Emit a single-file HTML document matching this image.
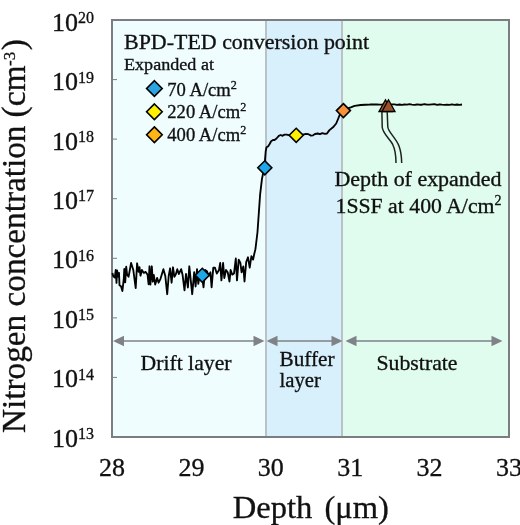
<!DOCTYPE html>
<html><head><meta charset="utf-8"><title>Nitrogen concentration vs depth</title>
<style>html,body{margin:0;padding:0;background:#fff;}body{width:520px;height:525px;overflow:hidden;}svg{display:block;}</style>
</head><body>
<svg width="520" height="525" viewBox="0 0 520 525"><rect x="112" y="20" width="154" height="417" fill="#f0fdff"/>
<rect x="266" y="20" width="76" height="417" fill="#d8effc"/>
<rect x="342" y="20" width="167" height="417" fill="#e0fcee"/>
<line x1="266" y1="20" x2="266" y2="437" stroke="#bac2c8" stroke-width="2"/>
<line x1="342" y1="20" x2="342" y2="437" stroke="#bac2c8" stroke-width="2"/>
<line x1="113" y1="377.4" x2="117" y2="377.4" stroke="#7a7e82" stroke-width="1"/>
<line x1="113" y1="317.9" x2="117" y2="317.9" stroke="#7a7e82" stroke-width="1"/>
<line x1="113" y1="258.3" x2="117" y2="258.3" stroke="#7a7e82" stroke-width="1"/>
<line x1="113" y1="198.7" x2="117" y2="198.7" stroke="#7a7e82" stroke-width="1"/>
<line x1="113" y1="139.1" x2="117" y2="139.1" stroke="#7a7e82" stroke-width="1"/>
<line x1="113" y1="79.6" x2="117" y2="79.6" stroke="#7a7e82" stroke-width="1"/>
<rect x="112" y="20" width="397" height="417" fill="none" stroke="#7a7e82" stroke-width="2"/>
<line x1="121" y1="341" x2="256.5" y2="341" stroke="#7f8286" stroke-width="1.6"/><path d="M113,341 L124,335.7 L124,346.3 Z" fill="#7f8286"/><path d="M264.5,341 L253.5,335.7 L253.5,346.3 Z" fill="#7f8286"/>
<line x1="274.5" y1="341" x2="334.5" y2="341" stroke="#7f8286" stroke-width="1.6"/><path d="M266.5,341 L277.5,335.7 L277.5,346.3 Z" fill="#7f8286"/><path d="M342.5,341 L331.5,335.7 L331.5,346.3 Z" fill="#7f8286"/>
<line x1="353.5" y1="341" x2="494.5" y2="341" stroke="#7f8286" stroke-width="1.6"/><path d="M345.5,341 L356.5,335.7 L356.5,346.3 Z" fill="#7f8286"/><path d="M502.5,341 L491.5,335.7 L491.5,346.3 Z" fill="#7f8286"/>
<path d="M112.4,272.9 L113.3,276.2 L114.8,277.6 L115.7,270.0 L116.5,282.9 L117.1,270.5 L118.1,276.7 L119.0,272.9 L119.5,285.2 L121.0,286.2 L122.4,291.0 L123.8,278.6 L124.3,269.0 L125.2,282.4 L126.2,266.7 L127.1,274.8 L128.6,276.7 L130.0,269.0 L131.1,262.9 L133.3,270.0 L135.7,288.1 L137.1,263.3 L138.6,271.9 L139.5,267.1 L140.5,275.7 L141.9,270.0 L143.8,272.9 L145.7,271.9 L147.6,274.8 L148.6,284.3 L149.5,266.3 L150.4,284.6 L151.8,266.3 L152.8,281.7 L153.8,275.0 L155.2,284.6 L157.1,277.9 L158.6,282.7 L160.5,278.8 L163.4,269.2 L165.3,276.0 L167.2,294.2 L168.7,276.0 L170.1,268.3 L171.6,282.7 L173.0,267.3 L174.4,276.9 L175.9,274.0 L177.3,269.2 L178.8,274.0 L181.2,269.2 L182.6,275.0 L184.5,290.4 L186.0,274.0 L187.9,287.5 L189.3,266.3 L192.2,294.2 L194.2,272.1 L195.6,286.5 L197.0,269.2 L198.3,283.8 L200.0,272.0 L202.3,278.0 L203.5,287.3 L205.2,270.0 L207.0,271.2 L208.7,275.8 L210.4,272.3 L211.6,287.3 L213.3,267.7 L215.0,267.7 L216.8,273.5 L219.0,270.0 L220.2,263.0 L221.4,280.4 L223.1,263.0 L224.3,278.0 L226.0,270.0 L227.7,272.3 L229.5,281.5 L230.6,270.0 L232.3,274.6 L234.0,273.5 L235.8,258.5 L237.0,280.4 L238.7,259.6 L240.4,263.0 L241.6,272.3 L243.3,266.5 L244.5,281.5 L246.2,262.0 L248.0,257.3 L249.7,267.7 L251.4,256.2 L253.1,259.6 L254.3,253.8 L255.4,249.2 L255.9,245.3 L257.5,232.0 L258.8,213.3 L260.1,194.7 L262.0,178.7 L264.2,168.0 L264.9,161.2 L265.7,151.2 L266.5,147.3 L268.0,146.5 L269.5,144.2 L271.1,141.2 L273.0,140.0 L274.5,140.0 L276.5,138.5 L278.8,135.8 L280.7,135.0 L282.6,135.8 L284.5,134.6 L286.8,134.6 L289.5,135.4 L296.0,135.3 L299.0,134.2 L303.0,134.7 L306.0,133.8 L308.5,134.2 L311.0,135.6 L313.0,135.3 L315.0,134.0 L317.7,133.5 L320.0,134.2 L322.3,133.2 L325.0,133.8 L327.0,133.5 L329.2,130.4 L333.0,127.3 L336.2,123.5 L338.5,118.0 L340.0,114.2 L343.4,110.4 L347.0,108.6 L350.8,107.3 L354.6,105.8 L360.8,105.0 L370.0,104.5 L372.0,104.3 L374.5,104.5 L377.0,104.4 L379.5,104.6 L382.0,104.6 L384.5,104.1 L387.0,104.1 L389.5,104.8 L392.0,104.3 L394.5,104.3 L397.0,104.9 L399.5,104.5 L402.0,104.8 L404.5,104.5 L407.0,104.6 L409.5,104.2 L412.0,104.6 L414.5,104.8 L417.0,104.5 L419.5,104.7 L422.0,104.7 L424.5,104.1 L427.0,104.7 L429.5,104.6 L432.0,104.3 L434.5,104.1 L437.0,104.8 L439.5,104.5 L442.0,104.7 L444.5,104.8 L447.0,104.7 L449.5,104.9 L452.0,104.4 L454.5,104.8 L457.0,104.5 L459.5,104.9 L462.0,104.5" fill="none" stroke="#000" stroke-width="1.85" stroke-linejoin="round"/>
<path d="M202.3,268.3 L209.3,275.3 L202.3,282.3 L195.3,275.3 Z" fill="#1ea8ea" stroke="#000" stroke-width="1.6" stroke-linejoin="miter"/>
<path d="M264.8,160.8 L271.8,167.8 L264.8,174.8 L257.8,167.8 Z" fill="#1ea8ea" stroke="#000" stroke-width="1.6" stroke-linejoin="miter"/>
<path d="M296.2,128.3 L303.2,135.3 L296.2,142.3 L289.2,135.3 Z" fill="#fff200" stroke="#000" stroke-width="1.6" stroke-linejoin="miter"/>
<path d="M343.4,103.6 L350.4,110.6 L343.4,117.6 L336.4,110.6 Z" fill="#f7923a" stroke="#000" stroke-width="1.6" stroke-linejoin="miter"/>
<path d="M154.4,80.7 L162.20000000000002,88.5 L154.4,96.3 L146.6,88.5 Z" fill="#2aa5e2" stroke="#000" stroke-width="1.6" stroke-linejoin="miter"/>
<path d="M154.4,104.0 L162.20000000000002,111.8 L154.4,119.6 L146.6,111.8 Z" fill="#fff200" stroke="#000" stroke-width="1.6" stroke-linejoin="miter"/>
<path d="M154.4,126.89999999999999 L162.20000000000002,134.7 L154.4,142.5 L146.6,134.7 Z" fill="#fdb515" stroke="#000" stroke-width="1.6" stroke-linejoin="miter"/>
<path d="M379,111.5 L385.5,99.8 L392,111.5 Z" fill="#9c5228" stroke="#000" stroke-width="1.3" stroke-linejoin="miter"/>
<path d="M382,111.5 L388.5,99.8 L395,111.5 Z" fill="#9c5228" stroke="#000" stroke-width="1.3" stroke-linejoin="miter"/>
<path d="M381.9,112 L382.2,127 C382.5,133 389,138 392.5,144 C395,149 396,156 396,163" fill="none" stroke="#1e2220" stroke-width="1.5"/>
<path d="M387.2,112 L387.8,127 C388.2,132 396,138 399,146 C400.8,151 401.6,157 401.7,163" fill="none" stroke="#1e2220" stroke-width="1.5"/>
<text x="52" y="446.7" font-size="26" font-family="'Liberation Serif', serif" fill="#111" stroke="#111" stroke-width="0.32">10<tspan font-size="16" dy="-7.6">13</tspan></text>
<text x="52" y="387.3" font-size="26" font-family="'Liberation Serif', serif" fill="#111" stroke="#111" stroke-width="0.32">10<tspan font-size="16" dy="-7.6">14</tspan></text>
<text x="52" y="327.8" font-size="26" font-family="'Liberation Serif', serif" fill="#111" stroke="#111" stroke-width="0.32">10<tspan font-size="16" dy="-7.6">15</tspan></text>
<text x="52" y="268.4" font-size="26" font-family="'Liberation Serif', serif" fill="#111" stroke="#111" stroke-width="0.32">10<tspan font-size="16" dy="-7.6">16</tspan></text>
<text x="52" y="209.0" font-size="26" font-family="'Liberation Serif', serif" fill="#111" stroke="#111" stroke-width="0.32">10<tspan font-size="16" dy="-7.6">17</tspan></text>
<text x="52" y="149.6" font-size="26" font-family="'Liberation Serif', serif" fill="#111" stroke="#111" stroke-width="0.32">10<tspan font-size="16" dy="-7.6">18</tspan></text>
<text x="52" y="90.1" font-size="26" font-family="'Liberation Serif', serif" fill="#111" stroke="#111" stroke-width="0.32">10<tspan font-size="16" dy="-7.6">19</tspan></text>
<text x="52" y="30.7" font-size="26" font-family="'Liberation Serif', serif" fill="#111" stroke="#111" stroke-width="0.32">10<tspan font-size="16" dy="-7.6">20</tspan></text>
<text x="112.0" y="476.3" font-size="26" text-anchor="middle" font-family="'Liberation Serif', serif" fill="#111" stroke="#111" stroke-width="0.32">28</text>
<text x="191.4" y="476.3" font-size="26" text-anchor="middle" font-family="'Liberation Serif', serif" fill="#111" stroke="#111" stroke-width="0.32">29</text>
<text x="270.8" y="476.3" font-size="26" text-anchor="middle" font-family="'Liberation Serif', serif" fill="#111" stroke="#111" stroke-width="0.32">30</text>
<text x="350.2" y="476.3" font-size="26" text-anchor="middle" font-family="'Liberation Serif', serif" fill="#111" stroke="#111" stroke-width="0.32">31</text>
<text x="429.6" y="476.3" font-size="26" text-anchor="middle" font-family="'Liberation Serif', serif" fill="#111" stroke="#111" stroke-width="0.32">32</text>
<text x="509.0" y="476.3" font-size="26" text-anchor="middle" font-family="'Liberation Serif', serif" fill="#111" stroke="#111" stroke-width="0.32">33</text>
<text x="232.7" y="517.7" font-size="32.6" font-family="'Liberation Serif', serif" fill="#111" stroke="#111" stroke-width="0.32">Depth</text>
<text x="324.4" y="517.7" font-size="32.6" font-family="'Liberation Serif', serif" fill="#111" stroke="#111" stroke-width="0.32">(μm)</text>
<g transform="translate(25.2,0) rotate(-90)"><text x="-433" y="0" font-size="33.6" textLength="307.5" lengthAdjust="spacingAndGlyphs" font-family="'Liberation Serif', serif" fill="#111" stroke="#111" stroke-width="0.32">Nitrogen concentration</text><text x="-117.5" y="0" font-size="33.6" font-family="'Liberation Serif', serif" fill="#111" stroke="#111" stroke-width="0.32">(cm</text><text x="-66" y="-10.7" font-size="17" font-family="'Liberation Serif', serif" fill="#111" stroke="#111" stroke-width="0.32">-3</text><text x="-50.2" y="0" font-size="33.6" font-family="'Liberation Serif', serif" fill="#111" stroke="#111" stroke-width="0.32">)</text></g>
<text x="124" y="49.3" font-size="20" textLength="245" lengthAdjust="spacingAndGlyphs" font-family="'Liberation Serif', serif" fill="#111" stroke="#111" stroke-width="0.32">BPD-TED conversion point</text>
<text x="124" y="69.6" font-size="16.8" textLength="90" lengthAdjust="spacingAndGlyphs" font-family="'Liberation Serif', serif" fill="#111" stroke="#111" stroke-width="0.32">Expanded at</text>
<text x="167.3" y="95.5" font-size="18.6" font-family="'Liberation Serif', serif" fill="#111" stroke="#111" stroke-width="0.32">70 A/cm<tspan font-size="12.2" dy="-7">2</tspan></text>
<text x="167.3" y="118.3" font-size="18.6" font-family="'Liberation Serif', serif" fill="#111" stroke="#111" stroke-width="0.32">220 A/cm<tspan font-size="12.2" dy="-7">2</tspan></text>
<text x="167.3" y="141" font-size="18.6" font-family="'Liberation Serif', serif" fill="#111" stroke="#111" stroke-width="0.32">400 A/cm<tspan font-size="12.2" dy="-7">2</tspan></text>
<text x="334.5" y="186" font-size="20" textLength="167" lengthAdjust="spacingAndGlyphs" font-family="'Liberation Serif', serif" fill="#111" stroke="#111" stroke-width="0.32">Depth of expanded</text>
<text x="335.5" y="212.6" font-size="20.5" font-family="'Liberation Serif', serif" fill="#111" stroke="#111" stroke-width="0.32"><tspan textLength="159" lengthAdjust="spacingAndGlyphs">1SSF at 400 A/cm</tspan><tspan font-size="14" dy="-8">2</tspan></text>
<text x="140.5" y="370.4" font-size="21" textLength="91" lengthAdjust="spacingAndGlyphs" font-family="'Liberation Serif', serif" fill="#111" stroke="#111" stroke-width="0.32">Drift layer</text>
<text x="279.5" y="366" font-size="20.5" textLength="55" lengthAdjust="spacingAndGlyphs" font-family="'Liberation Serif', serif" fill="#111" stroke="#111" stroke-width="0.32">Buffer</text>
<text x="279.5" y="387.3" font-size="20.5" textLength="41.5" lengthAdjust="spacingAndGlyphs" font-family="'Liberation Serif', serif" fill="#111" stroke="#111" stroke-width="0.32">layer</text>
<text x="376.5" y="369.6" font-size="21" textLength="81" lengthAdjust="spacingAndGlyphs" font-family="'Liberation Serif', serif" fill="#111" stroke="#111" stroke-width="0.32">Substrate</text></svg>
</body></html>
